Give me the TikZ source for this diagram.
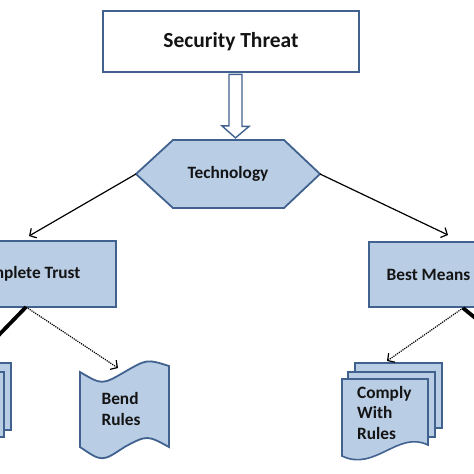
\documentclass[tikz,border=0pt]{standalone}
\usepackage{fontspec}
\setmainfont{Carlito}
\usetikzlibrary{arrows.meta,calc}
\definecolor{bfill}{HTML}{B9CDE5}
\definecolor{bline}{HTML}{41628F}
\definecolor{tcol}{HTML}{141414}
\begin{document}
\begin{tikzpicture}[x=1pt,y=-1pt,
  lbl/.style={font=\bfseries\fontsize{17.3}{20.5}\selectfont, text=tcol, inner sep=0pt},
  boxshape/.style={draw=bline, line width=1.8pt, fill=bfill},
  conn/.style={line width=1.2pt, -{Straight Barb[length=5pt,width=11pt]}},
  dotconn/.style={line width=1.2pt, densely dotted, -{Straight Barb[length=5pt,width=11pt]}},
  heavy/.style={line width=3.8pt, black}
]
\useasboundingbox (0,0) rectangle (474,474);
\clip (0,0) rectangle (474,474);

% Security Threat
\node[draw=bline, line width=1.8pt, fill=white, minimum width=256pt, minimum height=61pt,
      font=\bfseries\fontsize{21.5}{25}\selectfont, text=tcol] (st) at (231,41.5) {Security Threat};

% hollow block arrow
\draw[bline, line width=1.4pt, fill=white, line join=miter]
  ($(st.south)+(-2,1.5)$) coordinate (ba1) -- ++(13,0) -- ++(0,52) -- ++(7,0)
  -- ($(st.south)+(4.5,65)$) coordinate (batip) -- ++(-13.5,-12) -- ++(7,0) -- cycle;

% Technology hexagon
\coordinate (hexL) at (136,174);
\coordinate (hexR) at (320,174);
\draw[boxshape] (hexL) -- (173,140) -- (284,140) -- (hexR) -- (284,208) -- (173,208) -- cycle;
\node[lbl] (tech) at (228,174) {Technology};

% Complete Trust
\node[boxshape, minimum width=180pt, minimum height=66pt, lbl] (ct) at (26,274) {Complete Trust};
% Best Means
\node[boxshape, minimum width=119pt, minimum height=65pt, lbl] (bm) at (428.5,274.5) {Best Means};

\coordinate (ctTip) at (29,236);
\coordinate (bmTip) at (448,235);
\draw[conn] (hexL) -- (ctTip);
\draw[conn] (hexR) -- (bmTip);

% left partial multi-document
\draw[boxshape, line width=1.6pt] (-76,363) rectangle (11,430);
\draw[boxshape, line width=1.6pt] (-83,372) rectangle (4,437);
\draw[boxshape, line width=1.6pt] (-90,379) rectangle (-3,444);

% Bend Rules (punched tape)
\draw[boxshape] (80,372) .. controls (102,385) .. (124.5,372) .. controls (147,359) .. (169,366)
  -- (169,447) .. controls (147,435) .. (124.5,447) .. controls (102,462) .. (80,447) -- cycle;
\node[lbl, align=left] (bend) at (121,409) {Bend\\Rules};

% Comply With Rules (multi-document)
\draw[boxshape, line width=1.6pt] (355,363) rectangle (442,428);
\draw[boxshape, line width=1.6pt] (348,372) rectangle (435,437);
\draw[boxshape, line width=1.6pt] (342,379) -- (428,379) -- (428,445)
  .. controls (398,430) and (375,472) .. (342,456) -- cycle;
\node[lbl, align=left, anchor=north west] (comply) at (357,386) {Comply\\With\\Rules};

% connectors from the boxes
\coordinate (ctBot) at (26,307);
\coordinate (bmBot) at (463,308);
\coordinate (ctOff) at (-6,340);
\coordinate (bmOff) at (490,330);
\coordinate (bendTip) at (118,368);
\coordinate (complyTip) at (387,361);
\draw[heavy] (ctBot) -- (ctOff);
\draw[heavy] (bmBot) -- (bmOff);
\draw[dotconn] (ctBot) -- (bendTip);
\draw[dotconn] (bmBot) -- (complyTip);
\end{tikzpicture}
\end{document}
